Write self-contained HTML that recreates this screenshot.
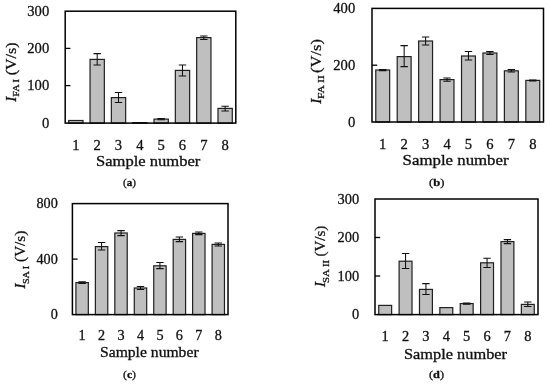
<!DOCTYPE html>
<html lang="en"><head><meta charset="utf-8"><title>Figure</title>
<style>html,body{margin:0;padding:0;background:#fff}svg{display:block}text{font-family:"Liberation Serif", serif;fill:#111;stroke:#111;stroke-width:.3px}</style></head><body>
<svg width="550" height="385" viewBox="0 0 550 385">
<rect width="550" height="385" fill="#fff"/>
<g id="chart-a">
<rect x="68.71" y="120.50" width="14.30" height="2.60" fill="#bfbfbf" stroke="#202020" stroke-width="1.2"/>
<rect x="90.04" y="59.40" width="14.30" height="63.70" fill="#bfbfbf" stroke="#202020" stroke-width="1.2"/>
<path d="M97.19 53.60V65.00M93.49 53.60h7.4M93.49 65.00h7.4" stroke="#111" stroke-width="1.05" fill="none"/>
<rect x="111.36" y="97.60" width="14.30" height="25.50" fill="#bfbfbf" stroke="#202020" stroke-width="1.2"/>
<path d="M118.51 92.40V102.40M114.81 92.40h7.4M114.81 102.40h7.4" stroke="#111" stroke-width="1.05" fill="none"/>
<rect x="132.69" y="122.60" width="14.30" height="0.50" fill="#bfbfbf" stroke="#202020" stroke-width="1.2"/>
<rect x="154.01" y="119.10" width="14.30" height="4.00" fill="#bfbfbf" stroke="#202020" stroke-width="1.2"/>
<path d="M161.16 118.50V119.80M157.46 118.50h7.4M157.46 119.80h7.4" stroke="#111" stroke-width="1.05" fill="none"/>
<rect x="175.34" y="70.40" width="14.30" height="52.70" fill="#bfbfbf" stroke="#202020" stroke-width="1.2"/>
<path d="M182.49 65.00V76.00M178.79 65.00h7.4M178.79 76.00h7.4" stroke="#111" stroke-width="1.05" fill="none"/>
<rect x="196.66" y="37.60" width="14.30" height="85.50" fill="#bfbfbf" stroke="#202020" stroke-width="1.2"/>
<path d="M203.81 36.00V39.40M200.11 36.00h7.4M200.11 39.40h7.4" stroke="#111" stroke-width="1.05" fill="none"/>
<rect x="217.99" y="108.40" width="14.30" height="14.70" fill="#bfbfbf" stroke="#202020" stroke-width="1.2"/>
<path d="M225.14 106.20V111.00M221.44 106.20h7.4M221.44 111.00h7.4" stroke="#111" stroke-width="1.05" fill="none"/>
<rect x="65.20" y="11.20" width="170.60" height="111.90" fill="none" stroke="#000" stroke-width="1.5"/>
<text x="49.20" y="15.80" font-size="14.6" text-anchor="end">300</text>
<path d="M65.20 48.40h5.2" stroke="#000" stroke-width="1.3"/>
<text x="49.20" y="53.00" font-size="14.6" text-anchor="end">200</text>
<path d="M65.20 85.60h5.2" stroke="#000" stroke-width="1.3"/>
<text x="49.20" y="90.20" font-size="14.6" text-anchor="end">100</text>
<text x="49.20" y="127.70" font-size="14.6" text-anchor="end">0</text>
<text x="75.86" y="149.60" font-size="14.6" text-anchor="middle">1</text>
<text x="97.19" y="149.60" font-size="14.6" text-anchor="middle">2</text>
<text x="118.51" y="149.60" font-size="14.6" text-anchor="middle">3</text>
<text x="139.84" y="149.60" font-size="14.6" text-anchor="middle">4</text>
<text x="161.16" y="149.60" font-size="14.6" text-anchor="middle">5</text>
<text x="182.49" y="149.60" font-size="14.6" text-anchor="middle">6</text>
<text x="203.81" y="149.60" font-size="14.6" text-anchor="middle">7</text>
<text x="225.14" y="149.60" font-size="14.6" text-anchor="middle">8</text>
<text x="96.00" y="166.00" font-size="14.6" textLength="104.4" lengthAdjust="spacingAndGlyphs">Sample number</text>
<text x="129.50" y="186.00" font-size="11.3" text-anchor="middle" textLength="13.0" lengthAdjust="spacingAndGlyphs">(<tspan font-weight="bold">a</tspan>)</text>
<text transform="translate(15.70 101.80) rotate(-90)" font-size="15.2" font-style="italic">I</text>
<text transform="translate(19.00 96.80) rotate(-90)" font-size="8.6" textLength="17.8" lengthAdjust="spacingAndGlyphs">FA I</text>
<text transform="translate(15.70 75.30) rotate(-90)" font-size="14.6" textLength="32.8" lengthAdjust="spacingAndGlyphs">(V/s)</text>
</g>
<g id="chart-b">
<rect x="375.77" y="70.00" width="13.90" height="52.00" fill="#bfbfbf" stroke="#202020" stroke-width="1.2"/>
<path d="M382.72 69.50V70.60M379.02 69.50h7.4M379.02 70.60h7.4" stroke="#111" stroke-width="1.05" fill="none"/>
<rect x="397.21" y="56.60" width="13.90" height="65.40" fill="#bfbfbf" stroke="#202020" stroke-width="1.2"/>
<path d="M404.16 45.60V66.60M400.46 45.60h7.4M400.46 66.60h7.4" stroke="#111" stroke-width="1.05" fill="none"/>
<rect x="418.64" y="41.00" width="13.90" height="81.00" fill="#bfbfbf" stroke="#202020" stroke-width="1.2"/>
<path d="M425.59 37.00V45.00M421.89 37.00h7.4M421.89 45.00h7.4" stroke="#111" stroke-width="1.05" fill="none"/>
<rect x="440.08" y="79.60" width="13.90" height="42.40" fill="#bfbfbf" stroke="#202020" stroke-width="1.2"/>
<path d="M447.03 78.00V81.20M443.33 78.00h7.4M443.33 81.20h7.4" stroke="#111" stroke-width="1.05" fill="none"/>
<rect x="461.52" y="56.00" width="13.90" height="66.00" fill="#bfbfbf" stroke="#202020" stroke-width="1.2"/>
<path d="M468.47 51.40V60.00M464.77 51.40h7.4M464.77 60.00h7.4" stroke="#111" stroke-width="1.05" fill="none"/>
<rect x="482.96" y="53.00" width="13.90" height="69.00" fill="#bfbfbf" stroke="#202020" stroke-width="1.2"/>
<path d="M489.91 51.60V54.40M486.21 51.60h7.4M486.21 54.40h7.4" stroke="#111" stroke-width="1.05" fill="none"/>
<rect x="504.39" y="70.80" width="13.90" height="51.20" fill="#bfbfbf" stroke="#202020" stroke-width="1.2"/>
<path d="M511.34 69.50V72.00M507.64 69.50h7.4M507.64 72.00h7.4" stroke="#111" stroke-width="1.05" fill="none"/>
<rect x="525.83" y="80.40" width="13.90" height="41.60" fill="#bfbfbf" stroke="#202020" stroke-width="1.2"/>
<path d="M532.78 80.00V81.00M529.08 80.00h7.4M529.08 81.00h7.4" stroke="#111" stroke-width="1.05" fill="none"/>
<rect x="372.00" y="8.40" width="171.50" height="113.60" fill="none" stroke="#000" stroke-width="1.5"/>
<text x="355.20" y="13.00" font-size="14.6" text-anchor="end">400</text>
<path d="M372.00 65.20h5.2" stroke="#000" stroke-width="1.3"/>
<text x="355.20" y="69.80" font-size="14.6" text-anchor="end">200</text>
<text x="355.20" y="126.60" font-size="14.6" text-anchor="end">0</text>
<text x="382.72" y="149.00" font-size="14.6" text-anchor="middle">1</text>
<text x="404.16" y="149.00" font-size="14.6" text-anchor="middle">2</text>
<text x="425.59" y="149.00" font-size="14.6" text-anchor="middle">3</text>
<text x="447.03" y="149.00" font-size="14.6" text-anchor="middle">4</text>
<text x="468.47" y="149.00" font-size="14.6" text-anchor="middle">5</text>
<text x="489.91" y="149.00" font-size="14.6" text-anchor="middle">6</text>
<text x="511.34" y="149.00" font-size="14.6" text-anchor="middle">7</text>
<text x="532.78" y="149.00" font-size="14.6" text-anchor="middle">8</text>
<text x="402.60" y="165.00" font-size="14.6" textLength="106.0" lengthAdjust="spacingAndGlyphs">Sample number</text>
<text x="436.70" y="185.60" font-size="11.3" text-anchor="middle" textLength="15.4" lengthAdjust="spacingAndGlyphs">(<tspan font-weight="bold">b</tspan>)</text>
<text transform="translate(320.50 103.80) rotate(-90)" font-size="15.2" font-style="italic">I</text>
<text transform="translate(324.40 99.10) rotate(-90)" font-size="8.6" textLength="23.8" lengthAdjust="spacingAndGlyphs">FA II</text>
<text transform="translate(320.50 73.00) rotate(-90)" font-size="14.6" textLength="34.1" lengthAdjust="spacingAndGlyphs">(V/s)</text>
</g>
<g id="chart-c">
<rect x="75.92" y="282.60" width="12.40" height="32.00" fill="#bfbfbf" stroke="#202020" stroke-width="1.2"/>
<path d="M82.12 281.80V283.40M78.42 281.80h7.4M78.42 283.40h7.4" stroke="#111" stroke-width="1.05" fill="none"/>
<rect x="95.38" y="246.60" width="12.40" height="68.00" fill="#bfbfbf" stroke="#202020" stroke-width="1.2"/>
<path d="M101.58 242.40V250.00M97.88 242.40h7.4M97.88 250.00h7.4" stroke="#111" stroke-width="1.05" fill="none"/>
<rect x="114.83" y="233.00" width="12.40" height="81.60" fill="#bfbfbf" stroke="#202020" stroke-width="1.2"/>
<path d="M121.03 230.60V235.60M117.33 230.60h7.4M117.33 235.60h7.4" stroke="#111" stroke-width="1.05" fill="none"/>
<rect x="134.28" y="288.00" width="12.40" height="26.60" fill="#bfbfbf" stroke="#202020" stroke-width="1.2"/>
<path d="M140.48 286.50V289.40M136.78 286.50h7.4M136.78 289.40h7.4" stroke="#111" stroke-width="1.05" fill="none"/>
<rect x="153.73" y="265.80" width="12.40" height="48.80" fill="#bfbfbf" stroke="#202020" stroke-width="1.2"/>
<path d="M159.93 262.50V268.60M156.23 262.50h7.4M156.23 268.60h7.4" stroke="#111" stroke-width="1.05" fill="none"/>
<rect x="173.18" y="239.40" width="12.40" height="75.20" fill="#bfbfbf" stroke="#202020" stroke-width="1.2"/>
<path d="M179.38 237.00V241.60M175.68 237.00h7.4M175.68 241.60h7.4" stroke="#111" stroke-width="1.05" fill="none"/>
<rect x="192.62" y="233.40" width="12.40" height="81.20" fill="#bfbfbf" stroke="#202020" stroke-width="1.2"/>
<path d="M198.82 232.00V234.60M195.12 232.00h7.4M195.12 234.60h7.4" stroke="#111" stroke-width="1.05" fill="none"/>
<rect x="212.08" y="244.40" width="12.40" height="70.20" fill="#bfbfbf" stroke="#202020" stroke-width="1.2"/>
<path d="M218.28 243.00V246.00M214.58 243.00h7.4M214.58 246.00h7.4" stroke="#111" stroke-width="1.05" fill="none"/>
<rect x="72.40" y="203.60" width="155.60" height="111.00" fill="none" stroke="#000" stroke-width="1.5"/>
<text x="57.80" y="208.07" font-size="14.2" text-anchor="end">800</text>
<path d="M72.40 259.10h5.2" stroke="#000" stroke-width="1.3"/>
<text x="57.80" y="263.57" font-size="14.2" text-anchor="end">400</text>
<text x="57.80" y="319.07" font-size="14.2" text-anchor="end">0</text>
<text x="82.12" y="340.40" font-size="14.2" text-anchor="middle">1</text>
<text x="101.58" y="340.40" font-size="14.2" text-anchor="middle">2</text>
<text x="121.03" y="340.40" font-size="14.2" text-anchor="middle">3</text>
<text x="140.48" y="340.40" font-size="14.2" text-anchor="middle">4</text>
<text x="159.93" y="340.40" font-size="14.2" text-anchor="middle">5</text>
<text x="179.38" y="340.40" font-size="14.2" text-anchor="middle">6</text>
<text x="198.82" y="340.40" font-size="14.2" text-anchor="middle">7</text>
<text x="218.28" y="340.40" font-size="14.2" text-anchor="middle">8</text>
<text x="100.00" y="357.40" font-size="14.2" textLength="98.6" lengthAdjust="spacingAndGlyphs">Sample number</text>
<text x="129.50" y="378.20" font-size="11.3" text-anchor="middle" textLength="13.0" lengthAdjust="spacingAndGlyphs">(<tspan font-weight="bold">c</tspan>)</text>
<text transform="translate(24.50 288.40) rotate(-90)" font-size="14.8" font-style="italic">I</text>
<text transform="translate(29.40 284.10) rotate(-90)" font-size="8.6" textLength="18.3" lengthAdjust="spacingAndGlyphs">SA I</text>
<text transform="translate(24.50 261.90) rotate(-90)" font-size="14.2" textLength="31.2" lengthAdjust="spacingAndGlyphs">(V/s)</text>
</g>
<g id="chart-d">
<rect x="378.74" y="305.40" width="12.90" height="9.20" fill="#bfbfbf" stroke="#202020" stroke-width="1.2"/>
<rect x="399.11" y="261.20" width="12.90" height="53.40" fill="#bfbfbf" stroke="#202020" stroke-width="1.2"/>
<path d="M405.56 253.50V268.40M401.86 253.50h7.4M401.86 268.40h7.4" stroke="#111" stroke-width="1.05" fill="none"/>
<rect x="419.49" y="289.40" width="12.90" height="25.20" fill="#bfbfbf" stroke="#202020" stroke-width="1.2"/>
<path d="M425.94 283.60V294.40M422.24 283.60h7.4M422.24 294.40h7.4" stroke="#111" stroke-width="1.05" fill="none"/>
<rect x="439.86" y="307.60" width="12.90" height="7.00" fill="#bfbfbf" stroke="#202020" stroke-width="1.2"/>
<rect x="460.24" y="303.60" width="12.90" height="11.00" fill="#bfbfbf" stroke="#202020" stroke-width="1.2"/>
<path d="M466.69 303.00V304.30M462.99 303.00h7.4M462.99 304.30h7.4" stroke="#111" stroke-width="1.05" fill="none"/>
<rect x="480.61" y="262.80" width="12.90" height="51.80" fill="#bfbfbf" stroke="#202020" stroke-width="1.2"/>
<path d="M487.06 258.20V267.40M483.36 258.20h7.4M483.36 267.40h7.4" stroke="#111" stroke-width="1.05" fill="none"/>
<rect x="500.99" y="241.60" width="12.90" height="73.00" fill="#bfbfbf" stroke="#202020" stroke-width="1.2"/>
<path d="M507.44 239.60V243.60M503.74 239.60h7.4M503.74 243.60h7.4" stroke="#111" stroke-width="1.05" fill="none"/>
<rect x="521.36" y="304.40" width="12.90" height="10.20" fill="#bfbfbf" stroke="#202020" stroke-width="1.2"/>
<path d="M527.81 302.00V306.40M524.11 302.00h7.4M524.11 306.40h7.4" stroke="#111" stroke-width="1.05" fill="none"/>
<rect x="375.00" y="199.00" width="163.00" height="115.60" fill="none" stroke="#000" stroke-width="1.5"/>
<text x="359.20" y="203.54" font-size="14.4" text-anchor="end">300</text>
<path d="M375.00 237.50h5.2" stroke="#000" stroke-width="1.3"/>
<text x="359.20" y="242.04" font-size="14.4" text-anchor="end">200</text>
<path d="M375.00 276.00h5.2" stroke="#000" stroke-width="1.3"/>
<text x="359.20" y="280.54" font-size="14.4" text-anchor="end">100</text>
<text x="359.20" y="319.14" font-size="14.4" text-anchor="end">0</text>
<text x="385.19" y="341.40" font-size="14.4" text-anchor="middle">1</text>
<text x="405.56" y="341.40" font-size="14.4" text-anchor="middle">2</text>
<text x="425.94" y="341.40" font-size="14.4" text-anchor="middle">3</text>
<text x="446.31" y="341.40" font-size="14.4" text-anchor="middle">4</text>
<text x="466.69" y="341.40" font-size="14.4" text-anchor="middle">5</text>
<text x="487.06" y="341.40" font-size="14.4" text-anchor="middle">6</text>
<text x="507.44" y="341.40" font-size="14.4" text-anchor="middle">7</text>
<text x="527.81" y="341.40" font-size="14.4" text-anchor="middle">8</text>
<text x="404.00" y="359.00" font-size="14.4" textLength="103.0" lengthAdjust="spacingAndGlyphs">Sample number</text>
<text x="436.50" y="378.00" font-size="11.3" text-anchor="middle" textLength="15.0" lengthAdjust="spacingAndGlyphs">(<tspan font-weight="bold">d</tspan>)</text>
<text transform="translate(324.50 286.90) rotate(-90)" font-size="15.0" font-style="italic">I</text>
<text transform="translate(329.40 283.00) rotate(-90)" font-size="8.6" textLength="23.2" lengthAdjust="spacingAndGlyphs">SA II</text>
<text transform="translate(324.50 256.50) rotate(-90)" font-size="14.4" textLength="30.8" lengthAdjust="spacingAndGlyphs">(V/s)</text>
</g>
</svg>
</body></html>
